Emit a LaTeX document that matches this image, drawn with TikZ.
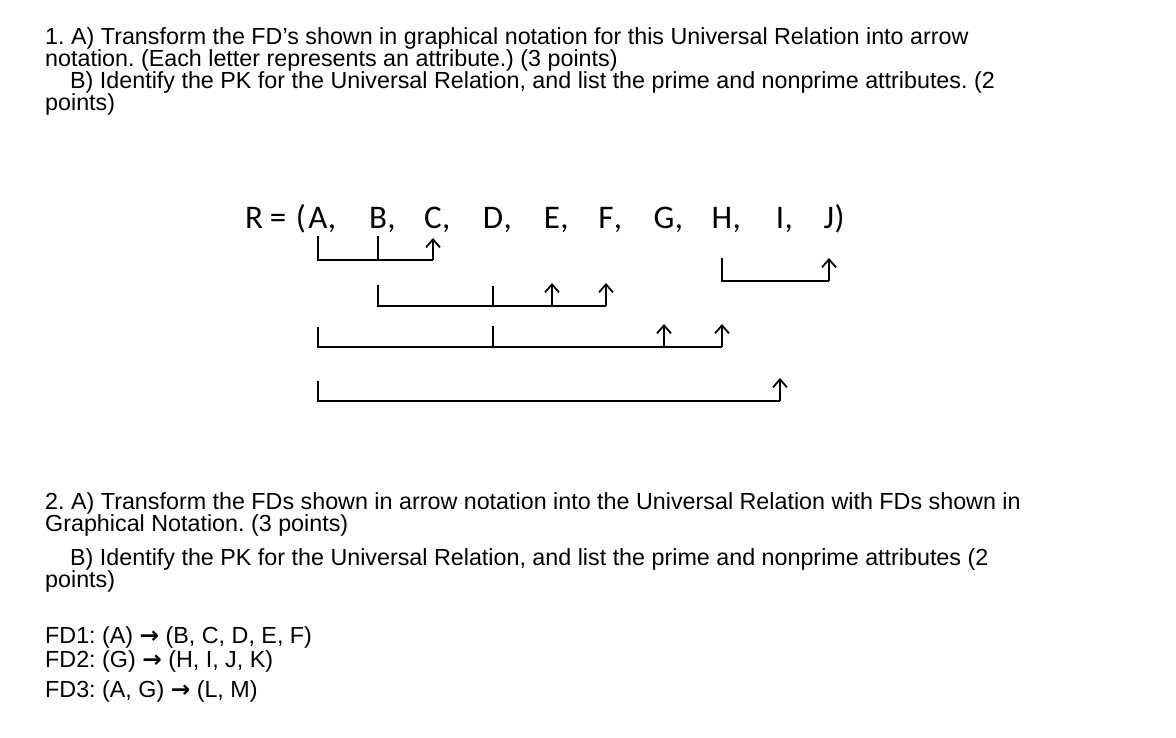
\documentclass[tikz,border=0pt]{standalone}
\usepackage{fontspec}
\setmainfont{Liberation Sans}
\newfontfamily\calib{Carlito}
\newfontfamily\dv{DejaVu Sans}
\usetikzlibrary{arrows.meta}
\frenchspacing
\newcommand{\apos}{{\char"27}}
\begin{document}
\begin{tikzpicture}[x=1pt,y=-1pt,
  txt/.style={anchor=base west,inner sep=0pt,font=\fontsize{23.3}{26}\selectfont},
  rel/.style={anchor=base,inner sep=0pt,font=\calib\fontsize{33}{36}\selectfont},
  fd/.style={line width=1.8pt,line join=miter},
  fda/.style={fd,-{Straight Barb[length=8pt,width=14pt,line width=1.8pt]}}]
\useasboundingbox (0,0) rectangle (1176,737);
\fill[white] (0,0) rectangle (1176,737);
\node[txt] (t1) at (45,44) {1. A) Transform the FD\apos s shown in graphical notation for this Universal Relation into arrow};
\node[txt] (t2) at (45,66) {notation. (Each letter represents an attribute.) (3 points)};
\node[txt] (t3) at (70,88) {B) Identify the PK for the Universal Relation, and list the prime and nonprime attributes. (2};
\node[txt] (t4) at (45,110) {points)};
% columns
\coordinate (A) at (318,0); \coordinate (B) at (378,0); \coordinate (C) at (433,0);
\coordinate (D) at (493,0); \coordinate (E) at (552,0); \coordinate (F) at (606,0);
\coordinate (G) at (664,0); \coordinate (H) at (722,0); \coordinate (I) at (780,0);
\coordinate (J) at (829,0);
\node[rel] (rR) at (254,228) {R};
\node[rel] (rEq) at (278,228) {=};
\node[rel] (rP) at (301,228) {(};
\foreach \l in {A,B,C,D,E,F,G,H,I}{
  \node[rel] (r\l) at (\l|-0,228) {\l};
  \node[rel,anchor=base west] at (r\l.base east) {,};
}
\node[rel] (rJ) at (J|-0,228) {J};
\node[rel,anchor=base west] (rQ) at (rJ.base east) {)};
% row 1: A,B -> C
\draw[fd] (A|-0,236) |- (C|-0,260);
\draw[fd] (B|-0,236) -- (B|-0,260);
\draw[fda] (C|-0,260) -- (C|-0,238);
% H -> J
\draw[fd] (H|-0,258) |- (J|-0,281);
\draw[fda] (J|-0,281) -- (J|-0,258);
% row 2: B,D -> E,F
\draw[fd] (B|-0,285) |- (F|-0,306);
\draw[fd] (D|-0,286) -- (D|-0,306);
\draw[fda] (E|-0,306) -- (E|-0,283);
\draw[fda] (F|-0,306) -- (F|-0,283);
% row 3: A,D -> G,H
\draw[fd] (A|-0,327) |- (H|-0,347);
\draw[fd] (D|-0,326) -- (D|-0,347);
\draw[fda] (G|-0,347) -- (G|-0,324);
\draw[fda] (H|-0,347) -- (H|-0,324);
% row 4: A -> I
\draw[fd] (A|-0,381) |- (I|-0,401);
\draw[fda] (I|-0,401) -- (I|-0,378);
\node[txt] (s1) at (45,509) {2. A) Transform the FDs shown in arrow notation into the Universal Relation with FDs shown in};
\node[txt] (s2) at (45,531) {Graphical Notation. (3 points)};
\node[txt] (s3) at (70,565) {B) Identify the PK for the Universal Relation, and list the prime and nonprime attributes (2};
\node[txt] (s4) at (45,587) {points)};
\node[txt] (f1) at (45,643) {FD1: (A) {\dv\bfseries →} (B, C, D, E, F)};
\node[txt] (f2) at (45,667) {FD2: (G) {\dv\bfseries →} (H, I, J, K)};
\node[txt] (f3) at (45,697) {FD3: (A, G) {\dv\bfseries →} (L, M)};
\end{tikzpicture}
\end{document}
